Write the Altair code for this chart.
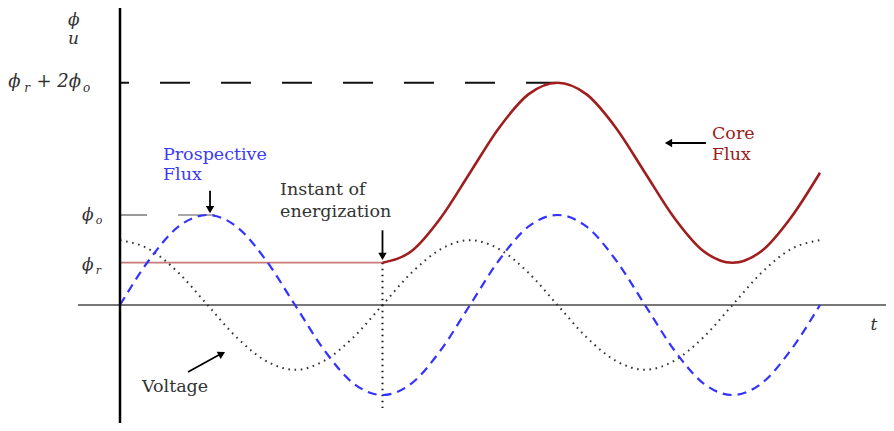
import altair as alt
import pandas as pd

# ---- data (t in degrees, flux in units of phi_o) ----
t_grid = [0, 30, 60, 90, 120, 150, 180, 210, 240, 270, 300, 330, 360,
          390, 420, 450, 480, 510, 540, 570, 600, 630, 660, 690, 720]
prospective = [0, 0.5, 0.87, 1, 0.87, 0.5, 0, -0.5, -0.87, -1, -0.87, -0.5, 0,
               0.5, 0.87, 1, 0.87, 0.5, 0, -0.5, -0.87, -1, -0.87, -0.5, 0]
voltage = [0.72, 0.62, 0.36, 0, -0.36, -0.62, -0.72, -0.62, -0.36, 0, 0.36, 0.62, 0.72,
           0.62, 0.36, 0, -0.36, -0.62, -0.72, -0.62, -0.36, 0, 0.36, 0.62, 0.72]
core_t = [270, 300, 330, 360, 390, 420, 450, 480, 510, 540, 570, 600, 630, 660, 690, 720]
core_flux = [0.47, 0.6, 0.97, 1.47, 1.97, 2.34, 2.47, 2.34, 1.97, 1.47, 0.97, 0.6,
             0.47, 0.6, 0.97, 1.47]
phi_r = 0.47
phi_peak = 2.47
t_energize = 270

# annotation texts
label_text = ["Prospective", "Flux", "Instant of", "energization", "Core", "Flux", "Voltage"]
label_t = [44.2, 44.2, 164.6, 164.6, 608.9, 608.9, 22.6]
label_f = [1.67, 1.45, 1.28, 1.03, 1.90, 1.67, -0.91]
label_color = ["#3b3bf5", "#3b3bf5", "#333333", "#333333", "#9a1c1c", "#9a1c1c", "#333333"]

math_text = ["ϕ", "u", "ϕ", "r", "+ 2ϕ", "o", "ϕ", "o", "ϕ", "r", "t"]
math_t = [-53.5, -53.5, -115, -98.5, -86, -38, -39, -25, -39, -25, 772]
math_f = [3.17, 2.96, 2.48, 2.41, 2.48, 2.41, 1.0, 0.93, 0.45, 0.38, -0.22]
math_size = [17, 17, 18, 12, 18, 12, 17, 11, 17, 11, 17]

# arrows: shaft start -> tip, and arrowhead centre / angle
arrow_t1 = [92.6, 270, 602.7, 69.9]
arrow_f1 = [1.27, 0.83, 1.8, -0.744]
arrow_t2 = [92.6, 270, 563.0, 103.5]
arrow_f2 = [1.06, 0.54, 1.8, -0.545]
head_t = [92.6, 270, 564.2, 104.8]
head_f = [1.06, 0.54, 1.8, -0.541]
head_angle = [90, 90, 180, 331.5]

X = alt.Scale(domain=[-115.2, 787.9], nice=False, zero=False)
Y = alt.Scale(domain=[-1.3111, 3.3], nice=False, zero=False)

def xenc(f="t"):
    return alt.X(f"{f}:Q", scale=X, axis=None)

def yenc(f="f"):
    return alt.Y(f"{f}:Q", scale=Y, axis=None)

curves = pd.DataFrame({"t": t_grid, "p": prospective, "v": voltage})
core = pd.DataFrame({"t": core_t, "f": core_flux})

def seg(t1, f1, t2, f2):
    return pd.DataFrame({"t": [t1], "f": [f1], "t2": [t2], "f2": [f2]})

def rule(df, **kw):
    return alt.Chart(df).mark_rule(**kw).encode(
        x=xenc("t"), y=yenc("f"), x2="t2:Q", y2="f2:Q")

# axes
v_axis = rule(seg(0, 3.5, 0, -1.5), color="#000000", strokeWidth=2.5)
h_axis = rule(seg(-43.2, 0, 800, 0), color="#777777", strokeWidth=2)

# reference lines
peak_line = rule(seg(0, phi_peak, 448, phi_peak), color="#111111", strokeWidth=2,
                 strokeDash=[30, 31], strokeDashOffset=21)
phio_a = rule(seg(0, 1, 27.8, 1), color="#555555", strokeWidth=1.2)
phio_b = rule(seg(59.7, 1, 97.7, 1), color="#555555", strokeWidth=1.2)
phir_line = rule(seg(0, phi_r, t_energize, phi_r), color="#c97a7a", strokeWidth=1.8)
energize_line = rule(seg(t_energize, phi_r, t_energize, -1.144), color="#111111",
                     strokeWidth=2, strokeDash=[1.6, 4.4])

volt = alt.Chart(curves).mark_line(color="#333333", strokeWidth=2, strokeDash=[1.6, 4.6],
                                   interpolate="monotone").encode(x=xenc("t"), y=yenc("v"))
prosp = alt.Chart(curves).mark_line(color="#3333ff", strokeWidth=2.2, strokeDash=[9, 6],
                                    interpolate="monotone").encode(x=xenc("t"), y=yenc("p"))
core_line = alt.Chart(core).mark_line(color="#a01e1e", strokeWidth=2.6,
                                      interpolate="monotone").encode(x=xenc("t"), y=yenc("f"))

arrows_df = pd.DataFrame({"t": arrow_t1, "f": arrow_f1, "t2": arrow_t2, "f2": arrow_f2})
arrows = rule(arrows_df, color="#000000", strokeWidth=1.8)
heads_df = pd.DataFrame({"t": head_t, "f": head_f, "a": head_angle})
heads = alt.Chart(heads_df).mark_point(shape="triangle-right", filled=True, opacity=1,
                                       color="#000000", size=70).encode(
    x=xenc("t"), y=yenc("f"), angle=alt.Angle("a:Q", scale=None))

labels_df = pd.DataFrame({"t": label_t, "f": label_f, "txt": label_text, "c": label_color})
labels = alt.Chart(labels_df).mark_text(align="left", baseline="middle", font="DejaVu Serif",
                                        fontSize=17.5).encode(
    x=xenc("t"), y=yenc("f"), text="txt:N", color=alt.Color("c:N", scale=None))

math_df = pd.DataFrame({"t": math_t, "f": math_f, "txt": math_text, "s": math_size})
maths = alt.Chart(math_df).mark_text(align="left", baseline="middle", font="DejaVu Serif",
                                     fontStyle="italic", color="#333333").encode(
    x=xenc("t"), y=yenc("f"), text="txt:N", size=alt.Size("s:Q", scale=None))

chart = alt.layer(
    h_axis, peak_line, phio_a, phio_b, phir_line, volt, energize_line, prosp, core_line,
    v_axis, arrows, heads, labels, maths
).properties(width=878, height=415, padding=0, autosize="none").configure_view(stroke=None)

chart.save("out.html", embed_options={"renderer": "svg", "actions": False})
